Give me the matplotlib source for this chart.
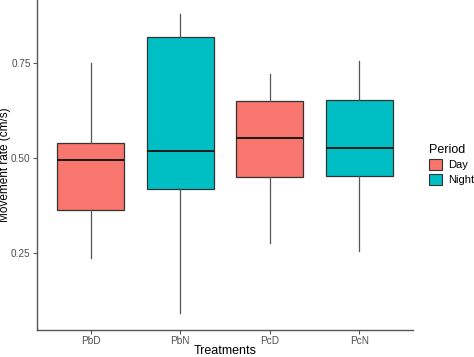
import matplotlib
matplotlib.use("Agg")
import matplotlib.pyplot as plt
from matplotlib.patches import Patch

plt.rcParams['font.family'] = ['Liberation Sans', 'DejaVu Sans']

# Box statistics
treatments = ['PbD', 'PbN', 'PcD', 'PcN']
period = ['Day', 'Night', 'Day', 'Night']
whislo = [0.237, 0.092, 0.275, 0.256]
q1 = [0.363, 0.418, 0.449, 0.453]
med = [0.495, 0.519, 0.553, 0.526]
q3 = [0.539, 0.818, 0.651, 0.653]
whishi = [0.750, 0.879, 0.721, 0.756]

period_colors = {'Day': '#F8766D', 'Night': '#00BFC4'}

stats = []
for i in range(len(treatments)):
    stats.append({'label': treatments[i], 'whislo': whislo[i], 'q1': q1[i],
                  'med': med[i], 'q3': q3[i], 'whishi': whishi[i], 'fliers': []})

fig = plt.figure(figsize=(4.74, 3.57), dpi=100)
ax = fig.add_axes([0.078, 0.0756, 0.793, 0.9244])

bp = ax.bxp(stats, positions=range(1, 5), widths=0.75, patch_artist=True,
            showcaps=False, showfliers=False,
            boxprops=dict(edgecolor='#333333', linewidth=0.9),
            medianprops=dict(color='#1a1a1a', linewidth=1.4),
            whiskerprops=dict(color='#555555', linewidth=0.9))
for box, p in zip(bp['boxes'], period):
    box.set_facecolor(period_colors[p])

ax.set_xlim(0.4, 4.6)
ax.set_ylim(0.047, 0.916)
ax.set_yticks([0.25, 0.50, 0.75])
ax.set_yticklabels(['0.25', '0.50', '0.75'])

for s in ['top', 'right']:
    ax.spines[s].set_visible(False)
for s in ['left', 'bottom']:
    ax.spines[s].set_color('#555555')
    ax.spines[s].set_linewidth(1.0)
ax.tick_params(axis='both', colors='#555555', labelcolor='#4D4D4D',
               labelsize=7.2, length=3, width=0.8, pad=1.5)

ax.set_xlabel('Treatments', fontsize=9, va='center')
ax.xaxis.set_label_coords(0.5, -0.063)
ax.set_ylabel('Movement rate (cm/s)', fontsize=8.5, va='center')
ax.yaxis.set_label_coords(-0.085, 0.5)

handles = [Patch(facecolor=period_colors[k], edgecolor='#333333', linewidth=0.8, label=k)
           for k in ['Day', 'Night']]
leg = fig.legend(handles=handles, title='Period', loc='upper left',
                 bbox_to_anchor=(0.896, 0.61), frameon=False, fontsize=8,
                 title_fontsize=9, handlelength=1.2, handleheight=1.2,
                 handletextpad=0.5, labelspacing=0.3, borderaxespad=0)
leg._legend_box.align = 'left'

fig.savefig('out.png', dpi=100)
